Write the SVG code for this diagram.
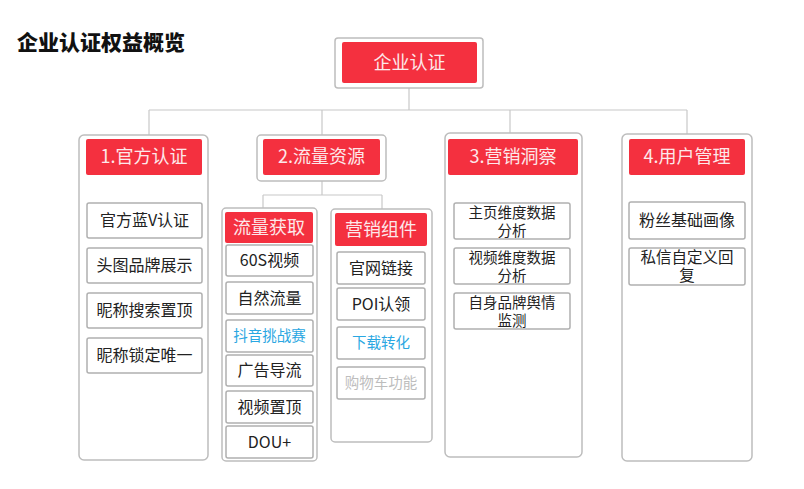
<svg xmlns="http://www.w3.org/2000/svg" width="804" height="489" viewBox="0 0 804 489">
<defs>
<style>
text{font-family:"Noto Sans CJK SC","Noto Sans",sans-serif;text-anchor:middle;}
.outer{fill:#fff;stroke:#bdbdbd;stroke-width:1.5;}
.red{fill:#f4303f;}
.item{fill:#fff;stroke:#b0b0b0;stroke-width:1.5;}
.ht{fill:#fde8ea;font-size:18px;}
.it{fill:#222;font-size:16px;}
.is{fill:#222;font-size:14.5px;}
.i2{fill:#222;font-size:15.5px;}
.blue{fill:#2aa7e2;font-size:14.5px;}
.gray{fill:#bdbdbd;font-size:14.5px;}
.conn{fill:none;stroke:#c8c8c8;stroke-width:1.2;}
</style>
</defs>
<rect width="804" height="489" fill="#fff"/>
<text x="17" y="50" style="font-size:21px;font-weight:900;text-anchor:start;fill:#111;">企业认证权益概览</text>

<g id="connectors">
<path class="conn" d="M409,88 V110 M149,110 H687 M149,110 V135 M322,110 V135 M510,110 V133 M687,110 V134"/>
<path class="conn" d="M322,181 V195 M263,195 H382 M263,195 V208 M382,195 V209"/>
</g>

<g id="root">
<rect class="outer" x="335" y="38" width="148" height="50" rx="3"/>
<rect class="red" x="342" y="42" width="135" height="41" rx="2"/>
<text class="ht" x="409.5" y="69">企业认证</text>
</g>

<g id="col1">
<rect class="outer" x="79" y="135" width="129" height="325" rx="5"/>
<rect class="red" x="86" y="139" width="116" height="36" rx="2"/>
<text class="ht" x="144" y="163">1.官方认证</text>
</g>
<g id="c1i1"><rect class="item" x="87" y="203" width="115" height="35" rx="2"/><text class="it" x="144.5" y="226">官方蓝V认证</text></g>
<g id="c1i2"><rect class="item" x="87" y="248" width="115" height="35" rx="2"/><text class="it" x="144.5" y="271">头图品牌展示</text></g>
<g id="c1i3"><rect class="item" x="87" y="293" width="115" height="35" rx="2"/><text class="it" x="144.5" y="316">昵称搜索置顶</text></g>
<g id="c1i4"><rect class="item" x="87" y="338" width="115" height="35" rx="2"/><text class="it" x="144.5" y="361">昵称锁定唯一</text></g>

<g id="col2">
<rect class="outer" x="257" y="135" width="129" height="46" rx="4"/>
<rect class="red" x="263" y="139" width="117" height="36" rx="2"/>
<text class="ht" x="321.5" y="163">2.流量资源</text>
</g>

<g id="sub1">
<rect class="outer" x="222" y="208" width="95" height="253" rx="4"/>
<rect class="red" x="225" y="212" width="88" height="31" rx="2"/>
<text class="ht" x="269" y="234">流量获取</text>
</g>
<g id="s1i1"><rect class="item" x="226" y="245" width="87" height="31" rx="2"/><text class="it" x="269.5" y="266">60S视频</text></g>
<g id="s1i2"><rect class="item" x="226" y="282" width="87" height="32" rx="2"/><text class="it" x="269.5" y="304">自然流量</text></g>
<g id="s1i3"><rect class="item" x="226" y="320" width="87" height="32" rx="2"/><text class="blue" x="269.5" y="341">抖音挑战赛</text></g>
<g id="s1i4"><rect class="item" x="226" y="355" width="87" height="31" rx="2"/><text class="it" x="269.5" y="376">广告导流</text></g>
<g id="s1i5"><rect class="item" x="226" y="391" width="87" height="32" rx="2"/><text class="it" x="269.5" y="413">视频置顶</text></g>
<g id="s1i6"><rect class="item" x="226" y="426" width="87" height="32" rx="2"/><text class="it" x="269.5" y="448">DOU+</text></g>

<g id="sub2">
<rect class="outer" x="331" y="209" width="101" height="233" rx="4"/>
<rect class="red" x="335" y="213" width="92" height="33" rx="2"/>
<text class="ht" x="381" y="236">营销组件</text>
</g>
<g id="s2i1"><rect class="item" x="337" y="252" width="88" height="32" rx="2"/><text class="it" x="381" y="274">官网链接</text></g>
<g id="s2i2"><rect class="item" x="337" y="288" width="88" height="32" rx="2"/><text class="it" x="381" y="310">POI认领</text></g>
<g id="s2i3"><rect class="item" x="337" y="327" width="88" height="32" rx="2"/><text class="blue" x="381" y="348">下载转化</text></g>
<g id="s2i4"><rect class="item" x="337" y="367" width="88" height="32" rx="2"/><text class="gray" x="381" y="388">购物车功能</text></g>

<g id="col3">
<rect class="outer" x="445" y="133" width="137" height="324" rx="5"/>
<rect class="red" x="448" y="139" width="130" height="36" rx="2"/>
<text class="ht" x="513" y="163">3.营销洞察</text>
</g>
<g id="c3i1"><rect class="item" x="454" y="203" width="116" height="36" rx="2"/><text class="is" x="512" y="218">主页维度数据<tspan x="512" dy="18">分析</tspan></text></g>
<g id="c3i2"><rect class="item" x="454" y="248" width="116" height="36" rx="2"/><text class="is" x="512" y="263">视频维度数据<tspan x="512" dy="18">分析</tspan></text></g>
<g id="c3i3"><rect class="item" x="454" y="293" width="116" height="36" rx="2"/><text class="is" x="512" y="308">自身品牌舆情<tspan x="512" dy="18">监测</tspan></text></g>

<g id="col4">
<rect class="outer" x="622" y="134" width="130" height="327" rx="5"/>
<rect class="red" x="629" y="139" width="116" height="36" rx="2"/>
<text class="ht" x="687" y="163">4.用户管理</text>
</g>
<g id="c4i1"><rect class="item" x="629" y="202" width="116" height="37" rx="2"/><text class="it" x="687" y="226">粉丝基础画像</text></g>
<g id="c4i2"><rect class="item" x="629" y="248" width="116" height="37" rx="2"/><text class="i2" x="687" y="263">私信自定义回<tspan x="687" dy="18">复</tspan></text></g>
</svg>
